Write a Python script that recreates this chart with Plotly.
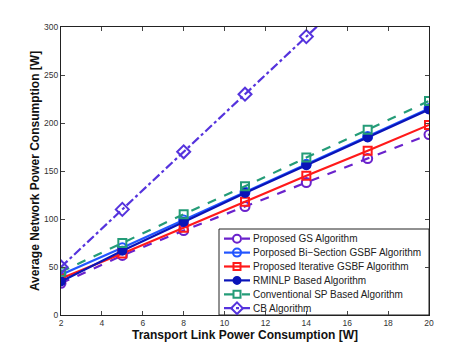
import plotly.graph_objects as go

x = [2, 5, 8, 11, 14, 17, 20]
gs = [33, 62, 88, 113, 138, 163, 188]
bisec = [42, 70, 99, 128, 157, 186, 215]
iterative = [38, 64, 91, 118, 145, 171, 198]
rminlp = [35, 67, 97, 127, 156, 185, 214]
sp = [45, 75, 105, 134, 164, 193, 223]
cb = [50, 110, 170, 230, 290, 350, 410]

names = ["Proposed GS Algorithm", "Porposed Bi\u2212Section GSBF Algorithm",
         "Proposed Iterative GSBF Algorithm", "RMINLP Based Algorithm",
         "Conventional SP Based Algorithm", "CB Algorithm"]

xticks = [2, 4, 6, 8, 10, 12, 14, 16, 18, 20]
yticks = [0, 50, 100, 150, 200, 250, 300]

styles = [
    (gs, "#6a22cc", "dash", "circle-open", 9),
    (bisec, "#2255ff", "solid", "circle-open", 9),
    (iterative, "#ff1a1a", "solid", "square-open", 8),
    (rminlp, "#0a14b8", "solid", "circle", 8),
    (sp, "#249c78", "dash", "square-open", 8),
    (cb, "#5533dd", "dashdot", "diamond-open", 10),
]

# page body has an 8px margin, so figure coords = screen coords - 8
PW, PH = 368, 288  # plot area size in px

fig = go.Figure()
for (vals, col, dash, sym, sz), nm in zip(styles, names):
    fig.add_trace(go.Scatter(
        x=x, y=vals, name=nm, mode="lines+markers",
        line=dict(color=col, width=2.2, dash=dash),
        marker=dict(symbol=sym, size=sz, color=col, line=dict(width=2, color=col)),
        showlegend=False,
    ))

# custom legend drawn on an overlay axis measured in plot pixels
bx0, bx1, by0, by1 = 158, 368, 0, 86
fig.add_trace(go.Scatter(
    x=[bx0, bx1, bx1, bx0, bx0], y=[by0, by0, by1, by1, by0],
    xaxis="x2", yaxis="y2", mode="lines", fill="toself",
    fillcolor="white", line=dict(color="#222", width=1),
    showlegend=False, hoverinfo="skip"))
annots = []
for i, ((vals, col, dash, sym, sz), nm) in enumerate(zip(styles, names)):
    yc = 76.3 - 13.9 * i
    fig.add_trace(go.Scatter(
        x=[163, 189], y=[yc, yc], xaxis="x2", yaxis="y2", mode="lines",
        line=dict(color=col, width=2.2, dash=dash), showlegend=False, hoverinfo="skip"))
    fig.add_trace(go.Scatter(
        x=[176], y=[yc], xaxis="x2", yaxis="y2", mode="markers",
        marker=dict(symbol=sym, size=sz - 1, color=col, line=dict(width=2, color=col)),
        showlegend=False, hoverinfo="skip"))
    annots.append(dict(x=191, y=yc, xref="x2", yref="y2", text=nm, showarrow=False,
                       xanchor="left", yanchor="middle", borderpad=0,
                       font=dict(size=10, color="#222")))

fig.update_layout(
    width=474, height=355,
    margin=dict(l=53, r=53, t=19, b=48, autoexpand=False),
    paper_bgcolor="white", plot_bgcolor="white",
    font=dict(family="Liberation Sans, Arial", color="#222"),
    showlegend=False,
    annotations=annots,
    xaxis2=dict(overlaying="x", range=[0, PW], visible=False, fixedrange=True),
    yaxis2=dict(overlaying="y", range=[0, PH], visible=False, fixedrange=True),
    xaxis=dict(range=[2, 20], tickvals=xticks, ticks="inside", ticklen=4,
               showline=True, linecolor="#222", linewidth=1, mirror="ticks",
               showgrid=False, zeroline=False, automargin=False,
               tickfont=dict(size=8.5, color="#333"),
               title=dict(text="<b>Transport Link Power Consumption [W]</b>",
                          font=dict(size=12, color="#111"), standoff=2)),
    yaxis=dict(range=[0, 300], tickvals=yticks, ticks="inside", ticklen=4,
               showline=True, linecolor="#222", linewidth=1, mirror="ticks",
               showgrid=False, zeroline=False, automargin=False,
               tickfont=dict(size=8.5, color="#333"),
               title=dict(text="<b>Average Network Power Consumption [W]</b>",
                          font=dict(size=12, color="#111"), standoff=1)),
)

fig.write_html("out.html")
